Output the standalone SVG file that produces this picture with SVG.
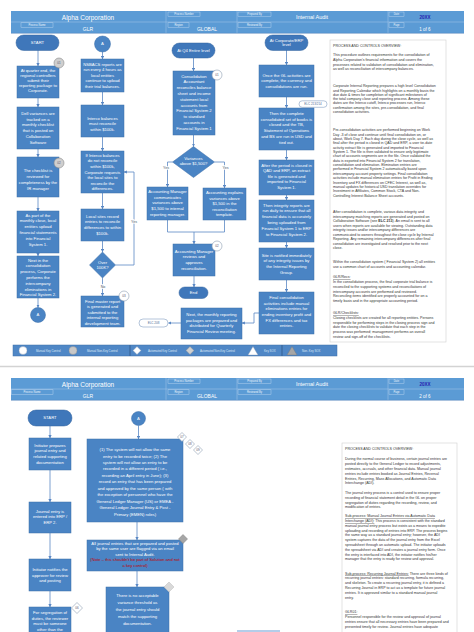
<svg xmlns="http://www.w3.org/2000/svg" width="474" height="632" viewBox="0 0 474 632">
<defs>
<style>
text{font-family:"Liberation Sans",Arial,sans-serif}
.box{fill:#4a84c4;stroke:#3d6fa8;stroke-width:0.5}
.term{fill:#3f77ba;stroke:#35659f;stroke-width:0.5}
.bt{fill:#fff;font-size:4.2px;text-anchor:middle}
.hd{fill:#5b9bd5}
.hl{fill:none;stroke:#c9ddf2;stroke-width:0.4}
.hlt{fill:#eef5fc;font-size:2.6px;text-anchor:middle}
.ht{fill:#fff;text-anchor:middle}
.div{stroke:#9fc3e7;stroke-width:0.6}
.conn{fill:none;stroke:#5a88c4;stroke-width:0.8}
.lbl{fill:#44546a;font-size:3.6px;text-anchor:middle;stroke:#fff;stroke-width:1.4px;paint-order:stroke}
.badge{fill:#fff;stroke:#8c9cb0;stroke-width:0.6}
.badgeg{fill:#cfcfcf;stroke:#8a8a8a;stroke-width:0.6}
.bdt{fill:#556;font-size:3px;text-anchor:middle}
.tb{fill:#fff;stroke:#cfcfcf;stroke-width:0.6}
.tx{fill:#333;font-size:3.6px}
.tag{fill:#fff;stroke:#6a8bb5;stroke-width:0.5}
.tagt{fill:#4a6a94;font-size:3px;text-anchor:middle}
.lg{fill:#dfeaf7;font-size:2.8px}
</style>
<marker id="ah" viewBox="0 0 6 6" refX="5.5" refY="3" markerWidth="4" markerHeight="4" orient="auto"><path d="M0,0 L6,3 L0,6 z" fill="#5a88c4"/></marker>
</defs>
<rect x="0" y="0" width="474" height="632" fill="#fff"/>

<!-- ===== PAGE 1 HEADER ===== -->
<g id="header1">
<rect class="hd" x="11" y="11" width="453" height="22"/>
<line class="div" x1="11" y1="22" x2="464" y2="22"/>
<line class="div" x1="166" y1="11" x2="166" y2="33"/>
<line class="div" x1="237" y1="11" x2="237" y2="33"/>
<line class="div" x1="388" y1="11" x2="388" y2="33"/>
<line x1="11" y1="33.3" x2="464" y2="33.3" stroke="#4a7fb8" stroke-width="0.6"/>
<rect class="hl" x="21" y="22.8" width="32" height="4.4"/><text class="hlt" x="37" y="26">Process Name</text>
<rect class="hl" x="168" y="12" width="32" height="4.4"/><text class="hlt" x="184" y="15.2">Process Number</text>
<rect class="hl" x="168" y="22.8" width="21" height="4.4"/><text class="hlt" x="178.5" y="26">Region</text>
<rect class="hl" x="238" y="12" width="33" height="4.4"/><text class="hlt" x="254.5" y="15.2">Prepared By</text>
<rect class="hl" x="238" y="22.8" width="33" height="4.4"/><text class="hlt" x="254.5" y="26">Reviewed By</text>
<rect class="hl" x="389" y="12" width="15" height="4.4"/><text class="hlt" x="396.5" y="15.2">Date</text>
<rect class="hl" x="389" y="22.8" width="15" height="4.4"/><text class="hlt" x="396.5" y="26">Page</text>
<text class="ht" x="88" y="19.6" font-size="6.5">Alpha Corporation</text>
<text class="ht" x="88" y="30.6" font-size="5">GLR</text>
<text class="ht" x="207" y="30.6" font-size="5">GLOBAL</text>
<text class="ht" x="312" y="19.4" font-size="5.5">Internal Audit</text>
<text x="425" y="19.4" font-size="4.5" font-weight="bold" fill="#2424b0" text-anchor="middle">20XX</text>
<text class="ht" x="425" y="30.6" font-size="4.5">1 of 6</text>
</g>

<!-- ===== PAGE 1 CONNECTORS ===== -->
<g id="connectors1">
<line class="conn" x1="38" y1="50" x2="38" y2="66" marker-end="url(#ah)"/>
<line class="conn" x1="38" y1="98" x2="38" y2="107" marker-end="url(#ah)"/>
<line class="conn" x1="38" y1="149" x2="38" y2="157" marker-end="url(#ah)"/>
<line class="conn" x1="38" y1="197" x2="38" y2="211" marker-end="url(#ah)"/>
<line class="conn" x1="38" y1="253" x2="38" y2="256" marker-end="url(#ah)"/>
<line class="conn" x1="38" y1="298" x2="38" y2="307.5" marker-end="url(#ah)"/>
<line class="conn" x1="102.5" y1="52" x2="102.5" y2="59" marker-end="url(#ah)"/>
<line class="conn" x1="102.5" y1="92" x2="102.5" y2="105" marker-end="url(#ah)"/>
<line class="conn" x1="102.5" y1="137" x2="102.5" y2="151" marker-end="url(#ah)"/>
<line class="conn" x1="102.5" y1="193" x2="102.5" y2="209" marker-end="url(#ah)"/>
<line class="conn" x1="102.5" y1="241" x2="102.5" y2="252" marker-end="url(#ah)"/>
<line class="conn" x1="102.5" y1="278" x2="102.5" y2="296" marker-end="url(#ah)"/>
<polyline class="conn" points="115.5,265 134,265 134,172 124,172" marker-end="url(#ah)"/>
<line class="conn" x1="193.5" y1="58" x2="193.5" y2="71" marker-end="url(#ah)"/>
<line class="conn" x1="193.5" y1="135" x2="193.5" y2="146.5" marker-end="url(#ah)"/>
<polyline class="conn" points="172.5,162 167.5,162 167.5,187" marker-end="url(#ah)"/>
<polyline class="conn" points="214.5,162 224.5,162 224.5,188" marker-end="url(#ah)"/>
<polyline class="conn" points="167.5,220 167.5,232 224.5,232 224.5,220"/>
<line class="conn" x1="194" y1="232" x2="194" y2="244" marker-end="url(#ah)"/>
<line class="conn" x1="194" y1="276" x2="194" y2="287" marker-end="url(#ah)"/>
<line class="conn" x1="286.5" y1="50" x2="286.5" y2="65" marker-end="url(#ah)"/>
<line class="conn" x1="286.5" y1="97" x2="286.5" y2="108" marker-end="url(#ah)"/>
<line class="conn" x1="286.5" y1="150" x2="286.5" y2="160" marker-end="url(#ah)"/>
<line class="conn" x1="286.5" y1="195" x2="286.5" y2="200" marker-end="url(#ah)"/>
<line class="conn" x1="286.5" y1="242" x2="286.5" y2="248" marker-end="url(#ah)"/>
<line class="conn" x1="286.5" y1="280" x2="286.5" y2="292" marker-end="url(#ah)"/>
<polyline class="conn" points="259,313 254,313 254,323 242,323" marker-end="url(#ah)"/>
<line class="conn" x1="181" y1="323" x2="168.5" y2="323" marker-end="url(#ah)"/>
<text class="lbl" x="134" y="223">Yes</text>
<text class="lbl" x="103" y="288">No</text>
<text class="lbl" x="166" y="169">Yes</text>
<text class="lbl" x="225.5" y="169">Yes</text>
</g>

<!-- ===== PAGE 1 COLUMN 1 ===== -->
<g id="start1"><rect class="term" x="16" y="35" width="43" height="15.5" rx="7.7"/><text class="bt" x="37.5" y="44.2" font-size="3.8">START</text></g>
<g id="p1c1b1"><rect class="box" x="17" y="66" width="42" height="32"/>
<text class="bt"><tspan x="38" y="72">At quarter end, the</tspan><tspan x="38" y="77">regional controllers</tspan><tspan x="38" y="82">submit their</tspan><tspan x="38" y="87">reporting package to</tspan><tspan x="38" y="92">Corporate.</tspan></text>
<circle class="badgeg" cx="59" cy="63" r="5"/><text class="bdt" x="59" y="64.1">01</text></g>
<g id="p1c1b2"><rect class="box" x="17" y="107" width="42" height="42"/>
<text class="bt"><tspan x="38" y="114.8">Dell variances are</tspan><tspan x="38" y="120.6">tracked on a</tspan><tspan x="38" y="126.4">monthly checklist</tspan><tspan x="38" y="132.2">that is posted on</tspan><tspan x="38" y="138">Collaboration</tspan><tspan x="38" y="143.8">Software</tspan></text></g>
<g id="p1c1b3"><rect class="box" x="17" y="157" width="42" height="40"/>
<text class="bt"><tspan x="38" y="171.5">The checklist is</tspan><tspan x="38" y="177.5">reviewed for</tspan><tspan x="38" y="183.5">completeness by the</tspan><tspan x="38" y="189.5">IR manager</tspan></text>
<circle class="badgeg" cx="59" cy="163" r="5"/><text class="bdt" x="59" y="164.1">02</text></g>
<g id="p1c1b4"><rect class="box" x="17" y="211" width="42" height="42"/>
<text class="bt"><tspan x="38" y="216.5">As part of the</tspan><tspan x="38" y="222.3">monthly close, local</tspan><tspan x="38" y="228.1">entities upload</tspan><tspan x="38" y="233.9">financial statements</tspan><tspan x="38" y="239.7">into Financial</tspan><tspan x="38" y="245.5">System 1.</tspan></text></g>
<g id="p1c1b5"><rect class="box" x="17" y="256" width="42" height="42"/>
<text class="bt"><tspan x="38" y="261.5">Next in the</tspan><tspan x="38" y="267.3">consolidation</tspan><tspan x="38" y="273.1">process, Corporate</tspan><tspan x="38" y="278.9">performs the</tspan><tspan x="38" y="284.7">intercompany</tspan><tspan x="38" y="290.5">eliminations in</tspan><tspan x="38" y="296.3">Financial System 2.</tspan></text></g>
<g id="p1A2"><circle class="box" cx="38" cy="315" r="7.5"/><text class="bt" x="38" y="316.4" font-size="4">A</text></g>

<!-- ===== PAGE 1 COLUMN 2 ===== -->
<g id="p1A1"><circle class="box" cx="102.5" cy="44" r="8"/><text class="bt" x="102.5" y="45.4" font-size="4">A</text></g>
<g id="p1c2b1"><rect class="box" x="81" y="59" width="43" height="33"/>
<text class="bt"><tspan x="102.5" y="65.5">NSBACS reports are</tspan><tspan x="102.5" y="71.1">run every 4 hours as</tspan><tspan x="102.5" y="76.7">local entities</tspan><tspan x="102.5" y="82.3">continue to upload</tspan><tspan x="102.5" y="87.9">their trial balances.</tspan></text></g>
<g id="p1c2b2"><rect class="box" x="81" y="105" width="43" height="32"/>
<text class="bt"><tspan x="102.5" y="119.5">Interco balances</tspan><tspan x="102.5" y="125">must reconcile</tspan><tspan x="102.5" y="130.5">within $100k.</tspan></text></g>
<g id="p1c2b3"><rect class="box" x="81" y="151" width="43" height="42"/>
<text class="bt"><tspan x="102.5" y="156.8">If Interco balances</tspan><tspan x="102.5" y="162.4">do not reconcile</tspan><tspan x="102.5" y="168">within $100k,</tspan><tspan x="102.5" y="173.6">Corporate requests</tspan><tspan x="102.5" y="179.2">the local sites to</tspan><tspan x="102.5" y="184.8">reconcile the</tspan><tspan x="102.5" y="190.4">differences.</tspan></text></g>
<g id="p1c2b4"><rect class="box" x="81" y="209" width="43" height="32"/>
<text class="bt"><tspan x="102.5" y="217.5">Local sites record</tspan><tspan x="102.5" y="223.2">entries to reconcile</tspan><tspan x="102.5" y="228.9">differences to within</tspan><tspan x="102.5" y="234.6">$100k.</tspan></text></g>
<g id="p1c2d"><polygon class="box" points="102.5,252 115.5,265 102.5,278 89.5,265"/>
<text class="bt" font-size="3.8"><tspan x="102.5" y="263.6">Over</tspan><tspan x="102.5" y="268.6">100K?</tspan></text></g>
<g id="p1c2b5"><rect class="box" x="81" y="296" width="43" height="31"/>
<text class="bt"><tspan x="102.5" y="302.5">Final master report</tspan><tspan x="102.5" y="308">is generated and</tspan><tspan x="102.5" y="313.5">submitted to the</tspan><tspan x="102.5" y="319">internal reporting</tspan><tspan x="102.5" y="324.5">development team.</tspan></text>
<circle class="badge" cx="124" cy="296" r="5"/><text class="bdt" x="124" y="297.1">03</text></g>

<!-- ===== PAGE 1 COLUMN 3 ===== -->
<g id="p1q4"><rect class="term" x="172" y="43" width="43" height="15" rx="7.5"/><text class="bt" x="193.5" y="51.8" font-size="3.6">At Q4 Entire level</text></g>
<g id="p1c3b1"><rect class="box" x="173" y="71" width="42" height="64"/>
<text class="bt"><tspan x="194" y="77.5">Consolidation</tspan><tspan x="194" y="83.3">Accountant</tspan><tspan x="194" y="89.1">reconciles balance</tspan><tspan x="194" y="94.9">sheet and income</tspan><tspan x="194" y="100.7">statement local</tspan><tspan x="194" y="106.5">accounts from</tspan><tspan x="194" y="112.3">Financial System 2</tspan><tspan x="194" y="118.1">to standard</tspan><tspan x="194" y="123.9">accounts in</tspan><tspan x="194" y="129.7">Financial System 1</tspan></text>
<circle class="badge" cx="217" cy="75" r="5"/><text class="bdt" x="217" y="76.1">01</text></g>
<g id="p1c3d"><polygon class="box" points="193.5,146.5 214.5,162 193.5,177.5 172.5,162"/>
<text class="bt" font-size="3.8"><tspan x="193.5" y="160.3">Variances</tspan><tspan x="193.5" y="165.3">above $1,500?</tspan></text></g>
<g id="p1c3l"><rect class="box" x="147" y="187" width="41" height="33"/>
<text class="bt"><tspan x="167.5" y="193.2">Accounting Manager</tspan><tspan x="167.5" y="198.8">communicates</tspan><tspan x="167.5" y="204.4">variances above</tspan><tspan x="167.5" y="210">$1,500 to internal</tspan><tspan x="167.5" y="215.6">reporting manager.</tspan></text></g>
<g id="p1c3r"><rect class="box" x="203" y="188" width="43" height="32"/>
<text class="bt"><tspan x="224.5" y="194">Accounting explains</tspan><tspan x="224.5" y="199.5">variances above</tspan><tspan x="224.5" y="205">$1,500 in the</tspan><tspan x="224.5" y="210.5">reconciliation</tspan><tspan x="224.5" y="216">template.</tspan></text></g>
<g id="p1c3b2"><rect class="box" x="173" y="244" width="42" height="32"/>
<text class="bt"><tspan x="194" y="252.5">Accounting Manager</tspan><tspan x="194" y="258.2">reviews and</tspan><tspan x="194" y="263.9">approves</tspan><tspan x="194" y="269.6">reconciliation.</tspan></text>
<circle class="badge" cx="217" cy="246" r="5"/><text class="bdt" x="217" y="247.1">02</text></g>
<g id="p1end"><rect class="term" x="179" y="287" width="29" height="11.5" rx="5.7"/><text class="bt" x="193.5" y="294.2" font-size="3.8">End</text></g>
<g id="p1next"><rect class="box" x="181" y="308" width="61" height="31"/>
<text class="bt"><tspan x="211.5" y="315.8">Next, the monthly reporting</tspan><tspan x="211.5" y="321.5">packages are prepared and</tspan><tspan x="211.5" y="327.2">distributed for Quarterly</tspan><tspan x="211.5" y="332.9">Financial Review meeting.</tspan></text></g>
<g id="p1elc208"><rect class="tag" x="139" y="319" width="29" height="8" rx="4"/><text class="tagt" x="153.5" y="324.1">ELC 208</text></g>

<!-- ===== PAGE 1 COLUMN 4 ===== -->
<g id="p1corp"><rect class="term" x="265" y="35" width="43" height="15.5" rx="7.7"/>
<text class="bt" font-size="3.6"><tspan x="286.5" y="41.6">At Corporate/ERP</tspan><tspan x="286.5" y="46.4">level</tspan></text></g>
<g id="p1c4b1"><rect class="box" x="259" y="65" width="55" height="32"/>
<text class="bt"><tspan x="286.5" y="76.5">Once the GL activities are</tspan><tspan x="286.5" y="82.3">complete, the currency and</tspan><tspan x="286.5" y="88.1">consolidations are run.</tspan></text></g>
<g id="p1elc213"><rect class="tag" x="299" y="100.8" width="28" height="6.5" rx="3.2"/><text class="tagt" x="313" y="105.2" font-size="2.9">ELC 213/214</text></g>
<g id="p1c4b2"><rect class="box" x="259" y="108" width="55" height="42"/>
<text class="bt"><tspan x="286.5" y="114.8">Then the complete</tspan><tspan x="286.5" y="120.6">consolidated set of books is</tspan><tspan x="286.5" y="126.4">closed and the TB,</tspan><tspan x="286.5" y="132.2">Statement of Operations</tspan><tspan x="286.5" y="138">and BS are run in USD and</tspan><tspan x="286.5" y="143.8">tied out.</tspan></text></g>
<g id="p1c4b3"><rect class="box" x="259" y="160" width="55" height="35"/>
<text class="bt"><tspan x="286.5" y="166.5">After the period is closed in</tspan><tspan x="286.5" y="172">QAD and ERP, an extract</tspan><tspan x="286.5" y="177.5">file is generated and</tspan><tspan x="286.5" y="183">imported to  Financial</tspan><tspan x="286.5" y="188.5">System 1.</tspan></text></g>
<g id="p1c4b4"><rect class="box" x="259" y="200" width="55" height="42"/>
<text class="bt"><tspan x="286.5" y="206.5">Then integrity reports are</tspan><tspan x="286.5" y="212.3">run daily to ensure that all</tspan><tspan x="286.5" y="218.1">financial data is accurately</tspan><tspan x="286.5" y="223.9">being uploaded from</tspan><tspan x="286.5" y="229.7">Financial System 1 to ERP</tspan><tspan x="286.5" y="235.5">to  Financial System 2.</tspan></text></g>
<g id="p1c4b5"><rect class="box" x="259" y="248" width="55" height="32"/>
<text class="bt"><tspan x="286.5" y="256.5">Site is notified immediately</tspan><tspan x="286.5" y="262.3">of any integrity issues by</tspan><tspan x="286.5" y="268.1">the Internal Reporting</tspan><tspan x="286.5" y="273.9">Group.</tspan></text></g>
<g id="p1c4b6"><rect class="box" x="259" y="292" width="55" height="42"/>
<text class="bt"><tspan x="286.5" y="298.8">Final consolidation</tspan><tspan x="286.5" y="304.5">activities include manual</tspan><tspan x="286.5" y="310.2">eliminations entries for</tspan><tspan x="286.5" y="315.9">ending inventory profit and</tspan><tspan x="286.5" y="321.6">FX differences and tax</tspan><tspan x="286.5" y="327.3">entries.</tspan></text></g>

<!-- ===== PAGE 1 TEXT PANEL ===== -->
<g id="p1panel">
<rect class="tb" x="330" y="40" width="116" height="302"/>
<text class="tx">
<tspan x="333" y="46.5">PROCESS AND CONTROLS OVERVIEW:</tspan>
<tspan x="333" y="56.3">This procedure outlines requirements for the consolidation of</tspan>
<tspan x="333" y="60.9">Alpha Corporation's  financial information and covers the</tspan>
<tspan x="333" y="65.5">processes related to validation of consolidation and elimination,</tspan>
<tspan x="333" y="70.1">as well as reconciliation of intercompany balances.</tspan>
<tspan x="333" y="87.3">Corporate Internal Reporting prepares a high level Consolidation</tspan>
<tspan x="333" y="91.5">and Reporting Calendar which highlights on a monthly basis the</tspan>
<tspan x="333" y="95.8">due date &amp; times for completion of significant milestones of</tspan>
<tspan x="333" y="100">the total company close and reporting process.  Among these</tspan>
<tspan x="333" y="104.3">dates are the Interco cutoff, Interco processes run, Interco</tspan>
<tspan x="333" y="108.5">confirmation among the sites, pre-consolidation, and final</tspan>
<tspan x="333" y="112.8">consolidation activities.</tspan>
<tspan x="333" y="131.3">Pre-consolidation activities are performed beginning on Work</tspan>
<tspan x="333" y="135.6">Day -3 of close and continue until final consolidation on, or</tspan>
<tspan x="333" y="140">about, Work Day 7.  Each day during the close cycle, as well as</tspan>
<tspan x="333" y="144.3">final after the period is closed in QAD and ERP, a user tie-date</tspan>
<tspan x="333" y="148.7">activity extract file is generated and imported to Financial</tspan>
<tspan x="333" y="153">System 1.   The file is then validated to ensure only legitimate</tspan>
<tspan x="333" y="157.4">chart of accounts segments are in the file.  Once validated the</tspan>
<tspan x="333" y="161.7">data is exported into Financial System 2  for translation,</tspan>
<tspan x="333" y="166.1">consolidation and elimination.  Elimination entries are</tspan>
<tspan x="333" y="170.4">performed in  Financial System 2 automatically based upon</tspan>
<tspan x="333" y="174.8">intercompany account property settings.  Final consolidation</tspan>
<tspan x="333" y="179.1">activities include manual elimination entries for Profit in Ending</tspan>
<tspan x="333" y="183.5">Inventory and FX differences on CFEC Interest, as well as,</tspan>
<tspan x="333" y="187.8">manual updates for historical USD translation overrides for</tspan>
<tspan x="333" y="192.2">Investment in Affiliates, Common Stock, CTA and Non-</tspan>
<tspan x="333" y="196.5">Controlling Interest Balance Sheet accounts.</tspan>
<tspan x="333" y="213">After consolidation is complete, various data integrity and</tspan>
<tspan x="333" y="217.5">intercompany matching reports are generated and posted on</tspan>
<tspan x="333" y="222">Collaboration Software (see <tspan font-weight="bold">ELC 213</tspan>).  An email is sent to all</tspan>
<tspan x="333" y="226.5">users when reports are available for viewing.  Outstanding data</tspan>
<tspan x="333" y="231">integrity issues and/or intercompany differences are</tspan>
<tspan x="333" y="235.5">communicated to owners throughout the close cycle by Internal</tspan>
<tspan x="333" y="240">Reporting.  Any remaining intercompany differences after final</tspan>
<tspan x="333" y="244.5">consolidation are investigated and resolved prior to the next</tspan>
<tspan x="333" y="249">close.</tspan>
<tspan x="333" y="263">Within the consolidation system ( Financial System 2) all entities</tspan>
<tspan x="333" y="267.8">use a common chart of accounts and accounting calendar.</tspan>
<tspan x="333" y="278.3" text-decoration="underline">GLR/Recs:</tspan>
<tspan x="333" y="283.3">In the consolidation process, the final corporate trial balance is</tspan>
<tspan x="333" y="288">reconciled to the supporting systems and reconciliations of</tspan>
<tspan x="333" y="292.7">intercompany accounts are performed and reviewed.</tspan>
<tspan x="333" y="297.4">Reconciling items identified are properly accounted for on a</tspan>
<tspan x="333" y="302.1">timely basis and in the appropriate accounting period.</tspan>
<tspan x="333" y="314" text-decoration="underline">GLR/Checklists:</tspan>
<tspan x="333" y="318.6">Closing checklists are created for all reporting entities.  Persons</tspan>
<tspan x="333" y="323.5">responsible for performing steps in the closing process sign and</tspan>
<tspan x="333" y="328.4">date the closing checklists to validate that each step in the</tspan>
<tspan x="333" y="333.3">process was performed; management performs an overall</tspan>
<tspan x="333" y="338.2">review and sign-off of the checklists.</tspan>
</text>
</g>

<!-- ===== LEGEND ===== -->
<g id="legend">
<rect x="13" y="345" width="324" height="11" fill="#4f87c6" stroke="#3d6fa8" stroke-width="0.5"/>
<line x1="130" y1="345" x2="130" y2="356" stroke="#3a679c" stroke-width="1.2"/>
<line x1="282" y1="345" x2="282" y2="356" stroke="#3a679c" stroke-width="1.2"/>
<circle cx="23" cy="350.5" r="4" fill="#fff" stroke="#8a9bb0" stroke-width="0.4"/>
<text class="lg" x="36" y="351.5">Manual Key Control</text>
<circle cx="73" cy="350.5" r="4" fill="#c8c8c8" stroke="#888" stroke-width="0.4"/>
<text class="lg" x="87" y="351.5">Manual Non-Key Control</text>
<polygon points="137,346.5 141,350.5 137,354.5 133,350.5" fill="#fff" stroke="#8a9bb0" stroke-width="0.4"/>
<text class="lg" x="148" y="351.5">Automated Key Control</text>
<polygon points="190,346.5 194,350.5 190,354.5 186,350.5" fill="#d0d0d0" stroke="#888" stroke-width="0.4"/>
<text class="lg" x="200" y="351.5">Automated Non-Key Control</text>
<polygon points="253,346.5 258,355 248,355" fill="#fff" stroke="#8a9bb0" stroke-width="0.4"/>
<text class="lg" x="264" y="351.5">Key SOX</text>
<polygon points="292,346.5 297,355 287,355" fill="#a6a6a6" stroke="#777" stroke-width="0.4"/>
<text class="lg" x="302" y="351.5">Non- Key SOX</text>
</g>

<!-- page separator -->
<line x1="0" y1="366.5" x2="474" y2="366.5" stroke="#d3d3d3" stroke-width="1.5"/>

<!-- ===== PAGE 2 HEADER ===== -->
<g id="header2" transform="translate(0,367)">
<rect class="hd" x="11" y="11" width="453" height="22"/>
<line class="div" x1="11" y1="22" x2="464" y2="22"/>
<line class="div" x1="166" y1="11" x2="166" y2="33"/>
<line class="div" x1="237" y1="11" x2="237" y2="33"/>
<line class="div" x1="388" y1="11" x2="388" y2="33"/>
<line x1="11" y1="33.3" x2="464" y2="33.3" stroke="#4a7fb8" stroke-width="0.6"/>
<rect class="hl" x="11.5" y="22.8" width="41.5" height="4.4"/><text class="hlt" x="32" y="26">Process Name</text>
<rect class="hl" x="168" y="12" width="32" height="4.4"/><text class="hlt" x="184" y="15.2">Process Number</text>
<rect class="hl" x="168" y="22.8" width="21" height="4.4"/><text class="hlt" x="178.5" y="26">Region</text>
<rect class="hl" x="238" y="12" width="33" height="4.4"/><text class="hlt" x="254.5" y="15.2">Prepared By</text>
<rect class="hl" x="238" y="22.8" width="33" height="4.4"/><text class="hlt" x="254.5" y="26">Reviewed By</text>
<rect class="hl" x="389" y="12" width="15" height="4.4"/><text class="hlt" x="396.5" y="15.2">Date</text>
<rect class="hl" x="389" y="22.8" width="15" height="4.4"/><text class="hlt" x="396.5" y="26">Page</text>
<text class="ht" x="88" y="19.6" font-size="6.5">Alpha Corporation</text>
<text class="ht" x="88" y="30.6" font-size="5">GLR</text>
<text class="ht" x="207" y="30.6" font-size="5">GLOBAL</text>
<text class="ht" x="312" y="19.4" font-size="5.5">Internal Audit</text>
<text x="425" y="19.4" font-size="4.5" font-weight="bold" fill="#2424b0" text-anchor="middle">20XX</text>
<text class="ht" x="425" y="30.6" font-size="4.5">2 of 6</text>
</g>

<!-- ===== PAGE 2 CONNECTORS ===== -->
<g id="connectors2">
<line class="conn" x1="50" y1="426" x2="50" y2="438" marker-end="url(#ah)"/>
<line class="conn" x1="50" y1="470" x2="50" y2="502" marker-end="url(#ah)"/>
<line class="conn" x1="50" y1="533" x2="50" y2="559" marker-end="url(#ah)"/>
<line class="conn" x1="50" y1="591" x2="50" y2="607" marker-end="url(#ah)"/>
<line class="conn" x1="138.5" y1="425.5" x2="138.5" y2="439" marker-end="url(#ah)"/>
<line class="conn" x1="137" y1="522" x2="137" y2="540" marker-end="url(#ah)"/>
<line class="conn" x1="137" y1="571" x2="137" y2="587" marker-end="url(#ah)"/>
</g>

<!-- ===== PAGE 2 NODES ===== -->
<g id="start2"><rect class="term" x="28" y="410" width="44" height="16" rx="8"/><text class="bt" x="50" y="419.4" font-size="3.8">START</text></g>
<g id="p2A"><circle class="box" cx="138.5" cy="418.5" r="7"/><text class="bt" x="138.5" y="419.9" font-size="4">A</text></g>
<g id="p2c1b1"><rect class="box" x="29" y="438" width="42" height="32"/>
<text class="bt" font-size="4.4"><tspan x="50" y="446.6">Initiator prepares</tspan><tspan x="50" y="452.3">journal entry and</tspan><tspan x="50" y="458">related supporting</tspan><tspan x="50" y="463.7">documentation</tspan></text></g>
<g id="p2c1b2"><rect class="box" x="29" y="502" width="42" height="31"/>
<text class="bt" font-size="4.4"><tspan x="50" y="512.6">Journal entry is</tspan><tspan x="50" y="518.3">entered into ERP /</tspan><tspan x="50" y="524">ERP 2.</tspan></text></g>
<g id="p2c1b3"><rect class="box" x="29" y="559" width="42" height="32"/>
<text class="bt" font-size="4.4"><tspan x="50" y="570.9">Initiator notifies the</tspan><tspan x="50" y="576.6">approver for review</tspan><tspan x="50" y="582.3">and posting</tspan></text></g>
<g id="p2c1b4"><rect class="box" x="29" y="607" width="42" height="35"/>
<text class="bt" font-size="4.4"><tspan x="50" y="613.9">For segregation of</tspan><tspan x="50" y="619.5">duties, the reviewer</tspan><tspan x="50" y="625.1">must be someone</tspan><tspan x="50" y="630.7">other than the</tspan></text>
<polygon class="badge" points="77,602.5 82.5,608 77,613.5 71.5,608"/><text class="bdt" x="77" y="609.1" font-size="2.8">06</text></g>
<g id="p2c2b1"><rect class="box" x="87" y="439" width="96" height="83"/>
<text class="bt" font-size="4.7"><tspan x="135" y="451">(1) The system will not allow the same</tspan><tspan x="135" y="457.5">entry to be recorded twice; (2) The</tspan><tspan x="135" y="463.9">system will not allow an entry to be</tspan><tspan x="135" y="470.4">recorded in a different period ( i.e.,</tspan><tspan x="135" y="476.9">recording an April entry in June); (3)</tspan><tspan x="135" y="483.4">record an entry that has been prepared</tspan><tspan x="135" y="489.8">and approved by the same person ( with</tspan><tspan x="135" y="496.3">the exception of personnel who have the</tspan><tspan x="135" y="502.8">General Ledger Manager (US) or EMEA -</tspan><tspan x="135" y="509.2">General Ledger Journal Entry &amp; Post -</tspan><tspan x="135" y="515.7">Primary (EMEN) roles)</tspan></text>
<polygon class="badge" points="182,432.5 186.5,437 182,441.5 177.5,437"/><text class="bdt" x="182" y="438" font-size="2.6">07</text>
<polygon class="badge" points="190,439.5 194.5,444 190,448.5 185.5,444"/><text class="bdt" x="190" y="445" font-size="2.6">08</text>
<polygon class="badge" points="198,445.5 202.5,450 198,454.5 193.5,450"/><text class="bdt" x="198" y="451" font-size="2.6">09</text></g>
<g id="p2c2b2"><rect class="box" x="87" y="540" width="96" height="31"/>
<text class="bt" font-size="4.1"><tspan x="135" y="545">All journal entries that are prepared and posted</tspan><tspan x="135" y="550.3">by the same user are flagged via an email</tspan><tspan x="135" y="555.8">sent to Internal Audit.</tspan><tspan x="135" y="561.4" fill="#c00000">(Note – this shouldn't be part of Solution and not</tspan><tspan x="135" y="566.9" fill="#c00000">a key control)</tspan></text>
<polygon points="183,534.5 187.5,539 183,543.5 178.5,539" fill="#a6a6a6" stroke="#7f7f7f" stroke-width="0.5"/></g>
<g id="p2c2b3"><rect class="box" x="106" y="587" width="63" height="55"/>
<text class="bt" font-size="5.2"><tspan x="137.5" y="596.8">There is no acceptable</tspan><tspan x="137.5" y="603.8">variance threshold as</tspan><tspan x="137.5" y="610.8">the journal entry should</tspan><tspan x="137.5" y="617.8">match the supporting</tspan><tspan x="137.5" y="624.8">documentation.</tspan></text>
<polygon points="169,582 174,587 169,592 164,587" fill="#d9d9d9" stroke="#bdbdbd" stroke-width="0.5"/></g>
<rect x="237" y="630" width="43" height="3" fill="#b4cde9"/>

<!-- ===== PAGE 2 TEXT PANEL ===== -->
<g id="p2panel">
<rect class="tb" x="342" y="443" width="115" height="195"/>
<text class="tx">
<tspan x="345" y="450.3">PROCESS AND CONTROLS OVERVIEW:</tspan>
<tspan x="345" y="460.3">During the normal course of business, certain journal entries are</tspan>
<tspan x="345" y="465.1">posted directly to the General Ledger to record adjustments,</tspan>
<tspan x="345" y="469.9">estimates, accruals, and other financial data.  Manual journal</tspan>
<tspan x="345" y="474.7">entries include entries booked as Journal Entries, Reversal</tspan>
<tspan x="345" y="479.5">Entries, Recurring, Mass Allocations, and Automatic Data</tspan>
<tspan x="345" y="484.3">Interchange (ADI).</tspan>
<tspan x="345" y="494">The journal entry process is a control used to ensure proper</tspan>
<tspan x="345" y="498.8">recording of financial statement detail in the GL on proper</tspan>
<tspan x="345" y="503.6">segregation of duties regarding the recording, review, and</tspan>
<tspan x="345" y="508.4">modification of entries.</tspan>
<tspan x="345" y="517.3" text-decoration="underline">Sub-process:  Manual  Journal Entries via  Automatic Data</tspan>
<tspan x="345" y="522.1"><tspan text-decoration="underline">Interchange (ADI):</tspan>  This process is consistent with the standard</tspan>
<tspan x="345" y="526.9">manual journal entry process but exists as a means to expedite</tspan>
<tspan x="345" y="531.6">uploading and recording of entries into ERP.  The process begins</tspan>
<tspan x="345" y="536.4">the same way as a standard journal entry; however, the ADI</tspan>
<tspan x="345" y="541.2">system captures the data of the journal entry from the Excel</tspan>
<tspan x="345" y="546">spreadsheet through an automatic upload.  The initiator uploads</tspan>
<tspan x="345" y="550.8">the spreadsheet via ADI and creates a journal entry form.  Once</tspan>
<tspan x="345" y="555.5">the entry is interfaced into ADI, the initiator notifies his/her</tspan>
<tspan x="345" y="560.3">manager that the entry is ready for review and approval.</tspan>
<tspan x="345" y="574.6"><tspan text-decoration="underline">Sub-process:  Recurring Journal Entries:</tspan>  There are three kinds of</tspan>
<tspan x="345" y="579.4">recurring journal entries: standard recurring, formula recurring,</tspan>
<tspan x="345" y="584.2">and skeleton.  To create a recurring journal entry, it is defined a</tspan>
<tspan x="345" y="589">Recurring Journal in ERP to act as a template for future journal</tspan>
<tspan x="345" y="593.8">entries.  It is approved similar to a standard manual journal</tspan>
<tspan x="345" y="598.6">entry.</tspan>
<tspan x="345" y="613" text-decoration="underline">GLR01:</tspan>
<tspan x="345" y="617.5">Personnel responsible for the review and approval of journal</tspan>
<tspan x="345" y="622.7">entries ensure that all necessary entries have been prepared and</tspan>
<tspan x="345" y="627.9">presented timely for review.  Journal entries have adequate</tspan>
</text>
</g>
</svg>
